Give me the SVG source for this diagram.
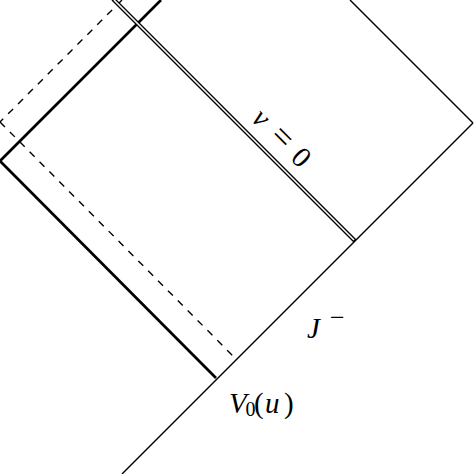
<svg xmlns="http://www.w3.org/2000/svg" width="474" height="474" viewBox="0 0 474 474">
<style>
.thin{stroke:#000;stroke-width:1.4;fill:none}
.thick{stroke:#000;stroke-width:2.7;fill:none}
.dash{stroke:#000;stroke-width:1.4;fill:none;stroke-dasharray:7 7}
.lbl{font-family:"Liberation Serif","DejaVu Serif",serif;font-size:29px;fill:#000}
.it{font-style:italic}
</style>
<rect width="474" height="474" fill="#fff"/>
<g id="connectors">
<line class="thin" x1="122" y1="474" x2="473" y2="123"/>
<line class="thin" x1="350" y1="0" x2="473" y2="123"/>
<line class="thick" x1="161" y1="0" x2="0" y2="161"/>
<line class="thick" x1="0" y1="161" x2="216" y2="378"/>
<line class="dash" x1="122" y1="0" x2="0" y2="122"/>
<line class="dash" x1="0" y1="122" x2="235" y2="358"/>
<line x1="113" y1="-1" x2="355" y2="241" stroke="#000" stroke-width="4.2"/>
<line x1="114" y1="0" x2="354" y2="240" stroke="#fff" stroke-width="1.6"/>
</g>
<g id="label-v0">
<text class="lbl" font-size="30" transform="translate(275,144.5) rotate(45)"><tspan class="it" x="-35">v</tspan><tspan x="-9.5" font-size="34">=</tspan><tspan x="20.5">0</tspan></text>
</g>
<g id="label-scri">
<text class="lbl" font-size="36" x="307" y="338"><tspan class="it">J</tspan><tspan font-size="26" x="330" y="325.5">−</tspan></text>
</g>
<g id="label-V0u">
<text class="lbl" y="413"><tspan class="it" x="229">V</tspan><tspan font-size="20" x="245.5" y="416">0</tspan><tspan x="254" y="413">(</tspan><tspan class="it" x="265">u</tspan><tspan x="284">)</tspan></text>
</g>
</svg>
